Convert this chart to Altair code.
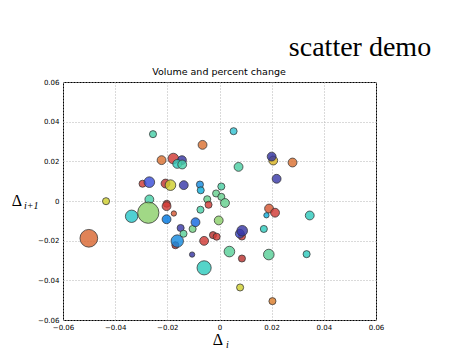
import altair as alt
import pandas as pd

# change (Δ_i), next change (Δ_{i+1}), relative volume, colour value (price level)
delta_i = [-0.0255, -0.0065, -0.0222, -0.0177, -0.0144, -0.0162, -0.0143, -0.0295, -0.0269, -0.0207,
           -0.0188, -0.0137, -0.0075, -0.0072, -0.0435, -0.0269, -0.0202, 0.0054, 0.0206, 0.0200,
           0.0280, 0.0073, 0.0219, -0.0013, 0.0007, 0.0007, -0.0047, 0.0021, -0.0337, -0.0273,
           -0.0203, -0.0175, -0.0203, -0.0149, -0.0103, -0.0092, -0.0138, -0.0501, -0.0169, -0.0162,
           -0.0105, -0.0059, -0.0059, -0.0025, -0.0011, -0.0003, -0.0042, -0.0073, 0.0190, 0.0213,
           0.0180, 0.0346, 0.0086, 0.0078, 0.0087, 0.0170, 0.0038, 0.0086, 0.0189, 0.0334,
           0.0079, 0.0203]
delta_next = [0.0337, 0.0283, 0.0206, 0.0214, 0.0206, 0.0187, 0.0184, 0.0087, 0.0095, 0.0088,
              0.0080, 0.0080, 0.0083, 0.0054, -0.0001, 0.0008, -0.0014, 0.0352, 0.0204, 0.0224,
              0.0194, 0.0172, 0.0112, 0.0038, 0.0073, 0.0021, 0.0009, -0.0010, -0.0077, -0.0059,
              -0.0026, -0.0063, -0.0092, -0.0136, -0.0141, -0.0107, -0.0165, -0.0188, -0.0223, -0.0202,
              -0.0270, -0.0337, -0.0201, -0.0172, -0.0180, -0.0098, -0.0019, -0.0044, -0.0038, -0.0059,
              -0.0072, -0.0073, -0.0179, -0.0165, -0.0150, -0.0141, -0.0255, -0.0290, -0.0270, -0.0268,
              -0.0436, -0.0505]
volume = [4, 5, 5, 6, 5, 5, 5, 4, 6, 5,
          6, 5, 4, 4, 4, 5, 4, 4, 5, 5,
          5, 5, 5, 4, 4, 4, 4, 5, 7, 12,
          5, 3, 5, 4, 4, 5, 4, 10, 4, 7,
          3, 8, 5, 4, 4, 5, 4, 4, 5, 5,
          3, 5, 4, 5, 6, 4, 6, 4, 6, 4,
          4, 4]
level = [0.45, 0.80, 0.80, 0.90, 0.10, 0.42, 0.45, 0.90, 0.22, 0.93,
         0.66, 0.12, 0.30, 0.35, 0.66, 0.45, 0.90, 0.38, 0.70, 0.08,
         0.80, 0.46, 0.12, 0.50, 0.46, 0.50, 0.50, 0.50, 0.40, 0.56,
         0.90, 0.85, 0.27, 0.12, 0.52, 0.25, 0.48, 0.82, 0.96, 0.30,
         0.10, 0.42, 0.90, 0.94, 0.90, 0.56, 0.90, 0.45, 0.85, 0.90,
         0.35, 0.42, 0.90, 0.18, 0.10, 0.42, 0.48, 0.94, 0.48, 0.42,
         0.66, 0.78]

ticks = [-0.06, -0.04, -0.02, 0, 0.02, 0.04, 0.06]

df = pd.DataFrame({"di": delta_i, "dn": delta_next, "vol": volume, "lvl": level,
                   "order": list(range(len(delta_i)))})

jet_stops = [0.0, 0.12, 0.22, 0.32, 0.38, 0.45, 0.52, 0.58, 0.66, 0.80, 0.90, 1.0]
jet_cols = ["#2b2b8c", "#3a3aa8", "#3a4ed8", "#3298dc", "#33c2d2", "#48d0a8",
            "#72d082", "#9ad060", "#cfcf30", "#db7232", "#cf3a36", "#992626"]

lbl = "datum.value == 0 ? '0' : format(datum.value, '.2f')"

def axis(pad):
    return alt.Axis(values=ticks, labelExpr=lbl, title=None, grid=True, domain=False,
                    ticks=False, labelFontSize=7, labelColor="black", labelFont="DejaVu Sans",
                    labelPadding=pad, labelFlush=False, labelOverlap=False,
                    gridColor="#b4b4b4", gridDash=[1, 2], gridWidth=1)

x = alt.X("di:Q", scale=alt.Scale(domain=[-0.06, 0.06], nice=False, zero=False), axis=axis(3))
y = alt.Y("dn:Q", scale=alt.Scale(domain=[-0.06, 0.06], nice=False, zero=False), axis=axis(4))

points = alt.Chart(df).mark_circle(stroke="#333333", strokeWidth=0.9, strokeOpacity=0.85,
                                   fillOpacity=0.82, opacity=1).encode(
    x=x, y=y,
    size=alt.Size("vol:Q", scale=alt.Scale(type="pow", exponent=2, domain=[0, 12], range=[0, 452]),
                  legend=None),
    color=alt.Color("lvl:Q", scale=alt.Scale(domain=jet_stops, range=jet_cols), legend=None),
    order=alt.Order("order:Q"),
)

def txt(text, xv, yv, size, font="DejaVu Sans", align="center", baseline="alphabetic", style="normal"):
    return alt.Chart(pd.DataFrame({"t": [text]})).mark_text(
        fontSize=size, font=font, align=align, baseline=baseline, fontStyle=style, color="black"
    ).encode(text="t:N", x=alt.value(xv), y=alt.value(yv))

layers = alt.layer(
    points,
    txt("scatter demo", 297, -26, 28, font="Liberation Serif"),
    txt("Volume and percent change", 156, -7, 9.5),
    txt("Δ", 155, 263, 16, font="Liberation Serif"),
    txt("i", 163, 266, 10, font="Liberation Serif", align="left", style="italic"),
    txt("Δ", -46, 124, 16, font="Liberation Serif"),
    txt("i+1", -39, 127, 10, font="Liberation Serif", align="left", style="italic"),
)

chart = layers.properties(
    width=313, height=238,
    autosize=alt.AutoSizeParams(type="none"),
    padding={"left": 63, "top": 82, "right": 98, "bottom": 35},
    background="white",
).configure_view(stroke="black", strokeWidth=1)

chart.save("out.html", embed_options={"renderer": "svg", "actions": False})
